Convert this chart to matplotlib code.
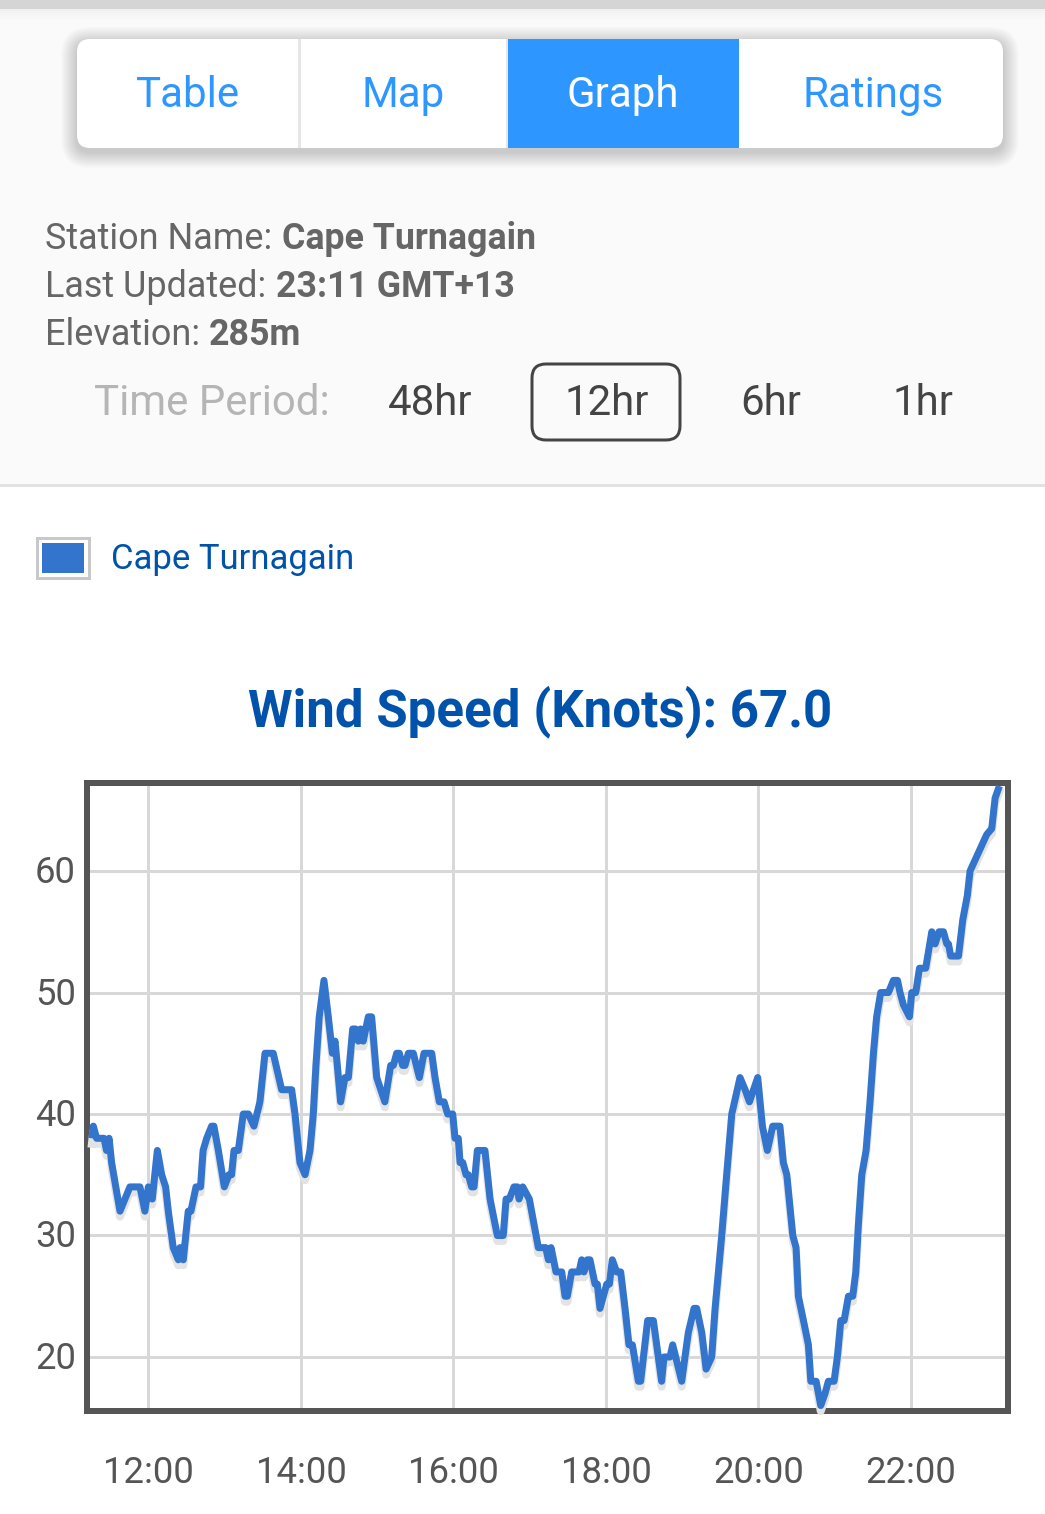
import matplotlib
matplotlib.use("Agg")
import matplotlib.pyplot as plt
from matplotlib.patches import FancyBboxPatch, Rectangle
from matplotlib.transforms import ScaledTranslation

plt.rcParams["font.family"] = ["Roboto", "DejaVu Sans"]

# minutes since midnight
minutes = [
    675.5, 676.6, 679.2, 685, 687, 689, 691, 697.6, 701.5, 705.4, 713.3, 717.2, 719.9, 723, 727,
    730.4, 733.5, 735.6, 739.5, 743.5, 744.8, 747.4, 751.3, 753.4, 757.4, 761, 763, 765.8,
    769.7, 771.5, 775, 779.7, 783.3, 785.4, 787.3, 790.7, 794.6, 798.6, 803, 807.7, 811.7,
    818.2, 824.8, 832.7, 835.3, 839.2, 843.2, 847.1, 849.7, 851.8, 854.4, 858.1, 861.5, 864.7,
    866.8, 868.6, 871.2, 874.6, 877.3, 880.7, 883, 885.1, 887, 889, 893, 895.6, 899.6, 906,
    910.6, 912.7, 915.3, 917.4, 920, 921.9, 924.5, 928.4, 933.2, 936.8, 942.9, 945.5, 948.9,
    952.6, 955.4, 959.4, 961.2, 963.8, 965.2, 967.3, 969.9, 971.7, 974.3, 976.2, 978.8, 984.8,
    988.8, 994.5, 999.2, 1001.4, 1004, 1007.6, 1010.3, 1011.6, 1014.5, 1019.7, 1026.8, 1032.6,
    1034.7, 1036.8, 1040.7, 1045.2, 1047.8, 1049.6, 1053, 1054.9, 1058.8, 1060.9, 1062.7,
    1065.4, 1067.4, 1071.4, 1073.2, 1075.3, 1080.6, 1082.7, 1085, 1088.4, 1091.6, 1095, 1098.1,
    1100.8, 1105.5, 1107.3, 1112.8, 1117.3, 1123.8, 1125.7, 1130.4, 1132.5, 1139.6, 1144.8,
    1149.3, 1151.4, 1155.4, 1158.8, 1163.2, 1165.9, 1171.1, 1175, 1179, 1185.5, 1189.5, 1192.9,
    1199.4, 1203.1, 1207, 1211.2, 1216.9, 1219.6, 1222.3, 1227, 1229.6, 1231.4, 1235.4, 1239.3,
    1241.2, 1245.4, 1249, 1252.4, 1255, 1259.5, 1262.1, 1264.8, 1267.4, 1270.8, 1274.2, 1276.6,
    1278.7, 1281.3, 1284.7, 1287.8, 1290.5, 1293, 1296.2, 1302.3, 1306.2, 1309.4, 1311.4, 1314,
    1318.8, 1320.6, 1323.8, 1326.7, 1331.6, 1336.4, 1339, 1342.1, 1345.6, 1348.2, 1349.5,
    1351.3, 1357.4, 1360.8, 1364.4, 1366.5, 1379.6, 1383.6, 1386.2, 1389.6,
]
wind_speed = [
    38, 39, 38, 38, 37, 38, 36, 32, 33, 34, 34, 32, 34, 33, 37,
    35, 34, 32, 29, 28, 29, 28, 32, 32, 34, 34, 37, 38,
    39, 39, 37, 34, 35, 35, 37, 37, 40, 40, 39, 41, 45,
    45, 42, 42, 40, 36, 35, 37, 40, 44, 48, 51, 48, 45,
    46, 44, 41, 43, 43, 47, 47, 46, 47, 46, 48, 48, 43, 41,
    44, 44, 45, 45, 44, 44, 45, 45, 43, 45, 45, 43, 41,
    41, 40, 40, 38, 38, 36, 36, 35, 35, 34, 34, 37, 37,
    33, 30, 30, 33, 33, 34, 34, 33, 34, 33, 29, 29,
    28, 29, 27, 27, 25, 25, 27, 27, 27, 28, 27,
    28, 28, 26, 26, 24, 26, 26, 28, 27, 27, 24, 21,
    21, 18, 18, 23, 23, 18, 20, 20, 21, 18, 22,
    24, 24, 22, 19, 20, 24, 30, 35, 40, 43, 42, 41,
    43, 39, 37, 39, 39, 36, 35, 30, 29, 25, 23, 21,
    18, 18, 16, 17, 18, 18, 20, 23, 23, 25, 25, 27,
    31, 35, 37, 41, 45, 48, 50, 50, 51, 51, 50, 49,
    48, 50, 50, 52, 52, 55, 54, 55, 55, 54, 54,
    53, 53, 56, 58, 60, 63, 63.5, 66, 67,
]
x_ticks = [720, 840, 960, 1080, 1200, 1320]
x_labels = ["12:00", "14:00", "16:00", "18:00", "20:00", "22:00"]
y_ticks = [20, 30, 40, 50, 60]

tabs = ["Table", "Map", "Graph", "Ratings"]
periods = ["48hr", "12hr", "6hr", "1hr"]

W, H = 1045, 1514
LINE = "#3375cc"
DARK_BLUE = "#0052ab"
TAB_BLUE = "#2e97ff"
GREY = "#666666"
PX = 0.72  # px to pt at dpi 100


def round_box(ax, x0, y0, x1, y1, r, **kw):
    box = FancyBboxPatch(
        (x0 + r, y0 + r), x1 - x0 - 2 * r, y1 - y0 - 2 * r,
        boxstyle=f"round,pad={r},rounding_size={r}", **kw
    )
    ax.add_patch(box)


fig = plt.figure(figsize=(W / 100, H / 100), dpi=100, facecolor="white")

# =========================
# PAGE
# =========================
ui = fig.add_axes([0, 0, 1, 1])
ui.set_xlim(0, W)
ui.set_ylim(H, 0)
ui.axis("off")

ui.add_patch(Rectangle((0, 0), W, 485, fc="#fafafa", ec="none"))
ui.add_patch(Rectangle((0, 484), W, 3, fc="#e2e2e2", ec="none"))
for i, c in enumerate(["#f0f0f0", "#f3f3f3", "#f5f5f5", "#f6f6f6", "#f8f8f8", "#f9f9f9"]):
    ui.add_patch(Rectangle((0, 9 + i * 2), W, 2, fc=c, ec="none"))
ui.add_patch(Rectangle((0, 0), W, 9, fc="#d5d5d5", ec="none"))

# tab bar shadow, then the bar
for grow in range(16, 0, -1):
    round_box(ui, 77 - grow, 39 - grow + 4, 1003 + grow, 148 + grow + 4, 13 + grow,
              fc="#000000", ec="none", alpha=0.013)
round_box(ui, 77, 39, 1003, 148, 13, fc="white", ec="none")
ui.add_patch(Rectangle((508, 39), 231, 109, fc=TAB_BLUE, ec="none"))
ui.add_patch(Rectangle((298, 39), 3, 109, fc="#e6e6e6", ec="none"))
ui.add_patch(Rectangle((506, 39), 2, 109, fc="#e6e6e6", ec="none"))
tab_centers = [188, 403, 623, 873]
for name, cx in zip(tabs, tab_centers):
    ui.text(cx, 91, name, ha="center", va="center_baseline", fontsize=42 * PX,
            color="white" if name == "Graph" else TAB_BLUE)

# station block
info_rows = [
    (235, "Station Name: ", "Cape Turnagain", 282),
    (283, "Last Updated: ", "23:11 GMT+13", 276),
    (331, "Elevation: ", "285m", 209),
]
for y, label, value, vx in info_rows:
    ui.text(45, y, label, va="center_baseline", fontsize=36 * PX, color=GREY)
    ui.text(vx, y, value, va="center_baseline", fontsize=35.8 * PX, color=GREY, fontweight="bold")

ui.text(94, 399, "Time Period:", va="center_baseline", fontsize=42 * PX, color="#b5b5b5")
round_box(ui, 532, 364, 680, 440, 14, fc="none", ec="#444444", lw=3 * PX)
for name, cx in zip(periods, [430, 607, 771, 923]):
    ui.text(cx, 399, name, ha="center", va="center_baseline", fontsize=42 * PX, color="#444444")

# legend
ui.add_patch(Rectangle((37, 538), 52, 40, fc="white", ec="#c8c8c8", lw=3 * PX))
ui.add_patch(Rectangle((42, 543), 42, 30, fc=LINE, ec="none"))
ui.text(111, 555.5, "Cape Turnagain", va="center_baseline", fontsize=34.7 * PX, color=DARK_BLUE)

ui.text(540, 706, "Wind Speed (Knots): 67.0", ha="center", va="center_baseline",
        fontsize=51 * PX, color=DARK_BLUE, fontweight="bold")

# chart frame sits on the page axes so its corners stay square
ui.add_patch(Rectangle((87, 783), 921, 628, fc="white", ec="#555555", lw=6 * PX, joinstyle="miter"))

# =========================
# CHART
# =========================
ax = fig.add_axes([90 / W, 1 - 1408 / H, (1005 - 90) / W, (1408 - 786) / H])
ax.patch.set_visible(False)
ax.set_xlim(674, 1394)
ax.set_ylim(15.8, 67)
ax.grid(True, color="#d8d8d8", lw=3 * PX)
ax.set_axisbelow(True)
ax.set_xticks(x_ticks, x_labels)
ax.set_yticks(y_ticks)
ax.tick_params(length=0, labelsize=36.5 * PX, labelcolor="#555555")
ax.tick_params(axis="x", pad=47 * PX)
ax.tick_params(axis="y", pad=14 * PX)
nudge = ScaledTranslation(0, 2 / 100, fig.dpi_scale_trans)
for label in ax.get_yticklabels():
    label.set_transform(label.get_transform() + nudge)
for spine in ax.spines.values():
    spine.set_visible(False)

shadow = [v - 0.45 for v in wind_speed]
ax.plot(minutes, shadow, color="#e3e3e3", lw=8 * PX, solid_joinstyle="round", clip_on=False, zorder=2.5)
ax.plot(minutes, wind_speed, color=LINE, lw=7 * PX, solid_joinstyle="round",
        solid_capstyle="butt", clip_on=False, zorder=3)

fig.savefig("out.png", dpi=100, facecolor="white")
plt.close(fig)
